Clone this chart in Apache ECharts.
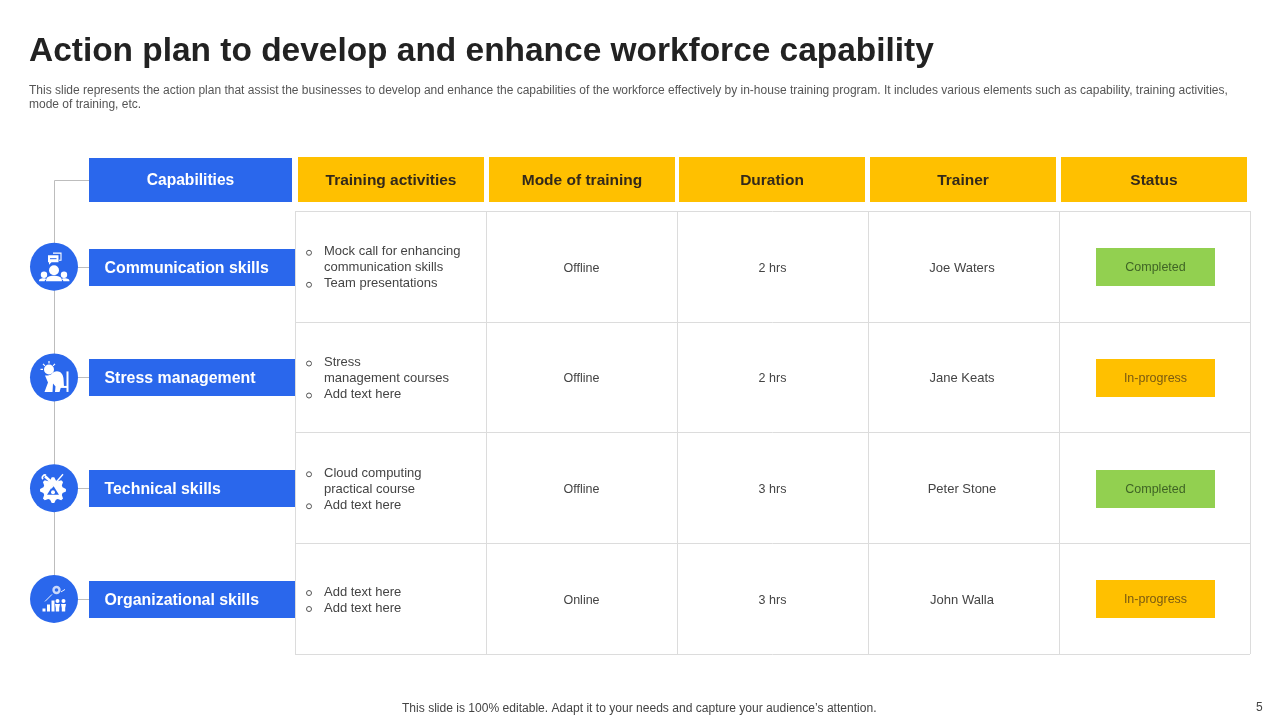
<!DOCTYPE html>
<html>
<head>
<meta charset="utf-8">
<style>html,body{margin:0;background:#fff}#chart{width:1280px;height:720px}</style>
<script src="https://cdn.jsdelivr.net/npm/echarts@6/dist/echarts.min.js"></script>
</head>
<body>
<div id="chart"></div>
<script>
const capHeader = 'Capabilities';
const headers = ['Training activities', 'Mode of training', 'Duration', 'Trainer', 'Status'];
const capabilities = ['Communication skills', 'Stress management', 'Technical skills', 'Organizational skills'];
// each activity is a list of wrapped lines, one bullet per activity
const activities = [
  [['Mock call for enhancing', 'communication skills'], ['Team presentations']],
  [['Stress', 'management courses'], ['Add text here']],
  [['Cloud computing', 'practical course'], ['Add text here']],
  [['Add text here'], ['Add text here']]
];
const modes = ['Offline', 'Offline', 'Offline', 'Online'];
const durations = ['2 hrs', '2 hrs', '3 hrs', '3 hrs'];
const trainers = ['Joe Waters', 'Jane Keats', 'Peter Stone', 'John Walla'];
const statuses = ['Completed', 'In-progress', 'Completed', 'In-progress'];

const FONT = '"Liberation Sans", Arial, sans-serif';
const BLUE = '#2a67ec';
const YELLOW = '#ffc000';
const LINE = '#dcdcdc';
const TEXT = '#444444';
const statusStyle = {
  'Completed': { fill: '#92d050', text: '#3f6425' },
  'In-progress': { fill: YELLOW, text: '#7a5a12' }
};

const circ = (x, y, r) => `M${x - r} ${y}A${r} ${r} 0 1 0 ${x + r} ${y}A${r} ${r} 0 1 0 ${x - r} ${y}Z`;
const fillPath = (d, color) => ({ type: 'path', shape: { pathData: d }, style: { fill: color || '#fff' } });
const strokePath = (d, w, color) => ({ type: 'path', shape: { pathData: d }, style: { fill: 'none', stroke: color || '#fff', lineWidth: w } });

function gearPath(r, teeth) {
  let d = '';
  for (let i = 0; i < teeth * 4; i++) {
    const a = (i - 0.5) * Math.PI * 2 / (teeth * 4);
    const rr = (i % 4 < 2) ? r : r - 3;
    d += (i ? 'L' : 'M') + (rr * Math.cos(a)).toFixed(2) + ' ' + (rr * Math.sin(a)).toFixed(2);
  }
  return d + 'Z';
}

// hand drawn white glyphs, coordinates relative to the circle centre
const icons = [
  [
    fillPath(circ(0, 3.5, 5)),
    fillPath('M-8 14.5C-8 9.5-4 9-0.5 9C4 9 8 9.5 8 14.5Z'),
    fillPath(circ(-10, 8, 3.2)),
    fillPath('M-15 14.5C-15 11.5-12 11.5-10 11.5C-9 11.5-8 12-7.5 12.5C-9 13-9.3 14-9.3 14.5Z'),
    fillPath(circ(10, 8, 3.2)),
    fillPath('M15.5 14.5C15.5 11.5 12 11.5 10 11.5C9 11.5 8 12 7.5 12.5C9 13 9.3 14 9.3 14.5Z'),
    strokePath('M-1-13.5H7V-6.5H5', 1.1),
    fillPath('M-6-11.5H4.5V-4.5H-2.5L-5-2V-4.5H-6Z'),
    fillPath('M-4-8.5H2.5V-7.5H-4Z', BLUE)
  ],
  [
    fillPath(circ(-5, -8, 5)),
    fillPath('M-3-3C2-9 9-6 9.5 1L10 9.5H7L5.5 14.5H1L1.5 9L-1 6L-1.5 14.5H-9.5L-6 5L-9-2L-6-2Z'),
    fillPath('M12.5-6H14.5V14.5H12.5Z'),
    fillPath('M5 8.5H13V10.5H5Z'),
    strokePath('M-11-13.5L-9-11.5M-5-16.5V-14M1-13.5L-1-11.5M-13.5-8H-11', 1.2)
  ],
  [
    { type: 'group', x: -1, y: 2, children: [
      fillPath(gearPath(13, 8)),
      fillPath('M0-5L6 4.5H-6Z', BLUE),
      fillPath(circ(0, 2, 2), '#fff')
    ] },
    strokePath('M-9-12L3-1', 2.6),
    strokePath('M9-14L-3 0', 1.4),
    strokePath('M-11-9C-13-11-10-14-8-13', 1.6)
  ],
  [
    fillPath('M-11.5 9.5H-8.5V12.5H-11.5ZM-7 5.5H-4V12.5H-7ZM-2.5 1.5H0.5V12.5H-2.5Z'),
    fillPath(circ(3.5, 2, 2)),
    fillPath('M1 5H6L5.2 9L5.2 12.5H1.8L1.8 9Z'),
    fillPath(circ(9.5, 2, 2)),
    fillPath('M7 5H12L11.2 9L11.2 12.5H7.8L7.8 9Z'),
    fillPath(circ(2.5, -9, 4.2), '#c9d8fa'),
    fillPath(circ(2.5, -9, 1.8), BLUE),
    strokePath('M-9 2.5L-2-4.5M7-7L11-9.5', 0.9)
  ]
];

const text = (x, y, str, size, weight, color, align) => ({
  type: 'text',
  style: {
    x: x, y: y, text: str, fontSize: size, fontWeight: weight || 'normal', fontFamily: FONT,
    fill: color || TEXT, align: align || 'center', verticalAlign: 'middle'
  }
});

function renderHeader(params, api) {
  const i = params.dataIndex;
  const cx = api.coord([i, 0])[0];
  const w = api.size([1, 0])[0] - 5;
  const x = Math.round(cx - w / 2 + 0.6 - i * 0.4);
  return {
    type: 'group',
    children: [
      { type: 'rect', shape: { x: x, y: 157, width: w, height: 45 }, style: { fill: YELLOW } },
      text(x + w / 2, 181, headers[i], 15.5, 'bold', '#33291a')
    ]
  };
}

function renderCapability(params, api) {
  const i = params.dataIndex;
  const y = api.coord([0, i])[1] + 0.3;
  const top = Math.round(y - 18);
  return {
    type: 'group',
    children: [
      { type: 'line', shape: { x1: 54.5, y1: top + 18.5, x2: 89, y2: top + 18.5 }, style: { stroke: '#bdbdbd', lineWidth: 1 } },
      { type: 'circle', shape: { cx: 54, cy: y, r: 24 }, style: { fill: BLUE } },
      { type: 'group', x: 54, y: y, children: icons[i] },
      { type: 'rect', shape: { x: 89, y: top, width: 206, height: 37 }, style: { fill: BLUE } },
      text(104.5, top + 19.5, capabilities[i], 15.9, 'bold', '#fff', 'left')
    ]
  };
}

function renderActivity(params, api) {
  const r = params.dataIndex;
  const cy = api.coord([0, r])[1] + 1.4;
  const items = activities[r];
  const total = items.reduce((n, it) => n + it.length, 0);
  const kids = [];
  let y = cy - (total - 1) * 16 / 2;
  items.forEach(it => {
    kids.push({ type: 'circle', shape: { cx: 309, cy: y + 1, r: 2.5 }, style: { fill: 'none', stroke: '#555', lineWidth: 1 } });
    it.forEach(line => {
      kids.push(text(324, y, line, 13, 'normal', TEXT, 'left'));
      y += 16;
    });
  });
  return { type: 'group', children: kids };
}

function cellRenderer(values, column, size, dx) {
  return function (params, api) {
    const p = api.coord([column, params.dataIndex]);
    return text(p[0] + dx, p[1] + 1.7, values[params.dataIndex], size);
  };
}

function renderStatus(params, api) {
  const v = statuses[params.dataIndex];
  const p = api.coord([4, params.dataIndex]);
  const top = Math.round(p[1] + 0.3 - 18.5);
  const x = p[0] + 1;
  return {
    type: 'group',
    children: [
      { type: 'rect', shape: { x: x - 59.5, y: top, width: 119, height: 38 }, style: { fill: statusStyle[v].fill } },
      text(x, top + 19.5, v, 12.5, 'normal', statusStyle[v].text)
    ]
  };
}

const rowData = capabilities.map((c, r) => [0, r]);
const custom = (renderItem, data) => ({
  type: 'custom', renderItem: renderItem, data: data || rowData, silent: true, clip: false,
  encode: { x: 0, y: 1 }
});

const chart = echarts.init(document.getElementById('chart'), null, { renderer: 'canvas' });
chart.setOption({
  backgroundColor: '#fff',
  animation: false,
  title: [
    { text: 'Action plan to develop and enhance workforce capability', left: 29, top: 35, padding: 0,
      textStyle: { fontFamily: FONT, fontSize: 33.45, fontWeight: 'bold', color: '#222222' } },
    { text: 'This slide represents the action plan that assist the businesses to develop and enhance the capabilities of the workforce effectively by in-house training program. It includes various elements such as capability, training activities,\nmode of training, etc.',
      left: 29, top: 84, padding: 0,
      textStyle: { fontFamily: FONT, fontSize: 12, fontWeight: 'normal', color: '#555555', lineHeight: 14 } },
    { text: 'This slide is 100% editable. Adapt it to your needs and capture your audience\u2019s attention.',
      left: 402, top: 703, padding: 0,
      textStyle: { fontFamily: FONT, fontSize: 12.07, fontWeight: 'normal', color: '#444444' } },
    { text: '5', left: 1256, top: 702, padding: 0,
      textStyle: { fontFamily: FONT, fontSize: 12, fontWeight: 'normal', color: '#444444' } }
  ],
  grid: { left: 295, top: 211, width: 955, height: 443 },
  xAxis: {
    type: 'category', data: headers,
    axisLine: { show: false }, axisTick: { show: false }, axisLabel: { show: false },
    splitLine: { show: true, lineStyle: { color: LINE, width: 1 } }
  },
  yAxis: {
    type: 'category', inverse: true, data: capabilities,
    axisLine: { show: false }, axisTick: { show: false }, axisLabel: { show: false },
    splitLine: { show: true, lineStyle: { color: LINE, width: 1 } }
  },
  graphic: [
    { type: 'polyline', z: 0, shape: { points: [[89, 180.5], [54.5, 180.5], [54.5, 600]] }, style: { fill: 'none', stroke: '#bdbdbd', lineWidth: 1 } },
    { type: 'rect', z: 1, shape: { x: 89, y: 158, width: 203, height: 44 }, style: { fill: BLUE } },
    { type: 'text', z: 2, style: { x: 190.5, y: 181, text: capHeader, fontSize: 15.6, fontWeight: 'bold', fontFamily: FONT, fill: '#fff', align: 'center', verticalAlign: 'middle' } }
  ],
  series: [
    custom(renderHeader, headers.map((h, i) => [i, 0])),
    custom(renderCapability),
    custom(renderActivity),
    custom(cellRenderer(modes, 1, 12.5, 0)),
    custom(cellRenderer(durations, 2, 12.5, 0)),
    custom(cellRenderer(trainers, 3, 13, -1.5)),
    custom(renderStatus)
  ]
});
</script>
</body>
</html>
